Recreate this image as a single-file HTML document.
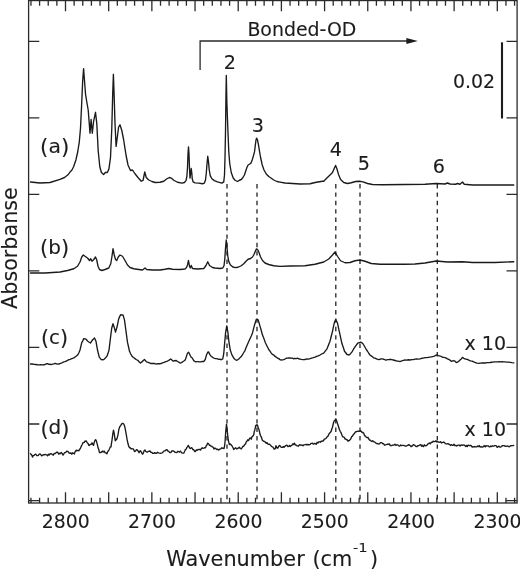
<!DOCTYPE html>
<html><head><meta charset="utf-8"><title>Spectra</title>
<style>
html,body{margin:0;padding:0;background:#fff;}
svg{display:block;}
text{font-family:"DejaVu Sans","Liberation Sans",sans-serif;fill:#1c1c1c;stroke:#1c1c1c;stroke-width:0.12;}
.c{fill:none;stroke:#1a1a1a;stroke-width:1.35;stroke-linejoin:round;stroke-linecap:round;}
.f{fill:none;stroke:#2a2a2a;stroke-width:1.3;}
</style></head><body>
<svg width="520" height="571" viewBox="0 0 520 571">
<rect x="0" y="0" width="520" height="571" fill="#fff"/>
<rect class="f" x="28.6" y="0.55" width="488.5" height="502.45"/>
<path class="f" d="M30.96,0.55v5.3M30.96,503.0v-5.3M39.59,0.55v5.3M39.59,503.0v-5.3M48.23,0.55v5.3M48.23,503.0v-5.3M56.86,0.55v5.3M56.86,503.0v-5.3M65.50,0.55v10.8M65.50,503.0v-10.8M74.14,0.55v5.3M74.14,503.0v-5.3M82.77,0.55v5.3M82.77,503.0v-5.3M91.41,0.55v5.3M91.41,503.0v-5.3M100.04,0.55v5.3M100.04,503.0v-5.3M108.68,0.55v10.8M108.68,503.0v-10.8M117.32,0.55v5.3M117.32,503.0v-5.3M125.95,0.55v5.3M125.95,503.0v-5.3M134.59,0.55v5.3M134.59,503.0v-5.3M143.22,0.55v5.3M143.22,503.0v-5.3M151.86,0.55v10.8M151.86,503.0v-10.8M160.50,0.55v5.3M160.50,503.0v-5.3M169.13,0.55v5.3M169.13,503.0v-5.3M177.77,0.55v5.3M177.77,503.0v-5.3M186.40,0.55v5.3M186.40,503.0v-5.3M195.04,0.55v10.8M195.04,503.0v-10.8M203.68,0.55v5.3M203.68,503.0v-5.3M212.31,0.55v5.3M212.31,503.0v-5.3M220.95,0.55v5.3M220.95,503.0v-5.3M229.58,0.55v5.3M229.58,503.0v-5.3M238.22,0.55v10.8M238.22,503.0v-10.8M246.86,0.55v5.3M246.86,503.0v-5.3M255.49,0.55v5.3M255.49,503.0v-5.3M264.13,0.55v5.3M264.13,503.0v-5.3M272.76,0.55v5.3M272.76,503.0v-5.3M281.40,0.55v10.8M281.40,503.0v-10.8M290.04,0.55v5.3M290.04,503.0v-5.3M298.67,0.55v5.3M298.67,503.0v-5.3M307.31,0.55v5.3M307.31,503.0v-5.3M315.94,0.55v5.3M315.94,503.0v-5.3M324.58,0.55v10.8M324.58,503.0v-10.8M333.22,0.55v5.3M333.22,503.0v-5.3M341.85,0.55v5.3M341.85,503.0v-5.3M350.49,0.55v5.3M350.49,503.0v-5.3M359.12,0.55v5.3M359.12,503.0v-5.3M367.76,0.55v10.8M367.76,503.0v-10.8M376.40,0.55v5.3M376.40,503.0v-5.3M385.03,0.55v5.3M385.03,503.0v-5.3M393.67,0.55v5.3M393.67,503.0v-5.3M402.30,0.55v5.3M402.30,503.0v-5.3M410.94,0.55v10.8M410.94,503.0v-10.8M419.58,0.55v5.3M419.58,503.0v-5.3M428.21,0.55v5.3M428.21,503.0v-5.3M436.85,0.55v5.3M436.85,503.0v-5.3M445.48,0.55v5.3M445.48,503.0v-5.3M454.12,0.55v10.8M454.12,503.0v-10.8M462.76,0.55v5.3M462.76,503.0v-5.3M471.39,0.55v5.3M471.39,503.0v-5.3M480.03,0.55v5.3M480.03,503.0v-5.3M488.66,0.55v5.3M488.66,503.0v-5.3M497.30,0.55v10.8M497.30,503.0v-10.8M505.94,0.55v5.3M505.94,503.0v-5.3M514.57,0.55v5.3M514.57,503.0v-5.3M28.6,41.30h10.7M517.1,41.30h-10.6M28.6,117.84h10.7M517.1,117.84h-10.6M28.6,194.38h10.7M517.1,194.38h-10.6M28.6,270.92h10.7M517.1,270.92h-10.6M28.6,347.46h10.7M517.1,347.46h-10.6M28.6,424.00h10.7M517.1,424.00h-10.6M28.6,500.54h10.7M517.1,500.54h-10.6"/>
<path class="f" stroke-dasharray="4.4 4.0" style="stroke-width:1.3;stroke:#222" d="M227,184V502.6M257,184V502.6M335.8,184V502.6M360,184V502.6M437.3,184V502.6"/>
<polyline class="c" points="30.50,182.00 40.00,183.00 50.00,182.50 60.00,179.30 64.50,177.50 68.00,174.80 70.20,171.80 71.80,170.20 73.60,166.80 75.90,160.00 77.70,152.00 79.30,141.80 80.50,128.20 81.60,105.50 82.70,80.50 83.60,68.60 84.50,80.50 85.50,94.00 86.80,102.00 88.20,110.00 89.10,121.40 90.00,133.20 91.10,119.50 92.30,133.20 93.60,121.40 95.50,112.30 96.80,123.60 98.20,150.90 99.80,166.80 101.40,172.50 103.60,174.60 105.50,172.30 107.30,172.50 108.90,169.10 110.50,157.70 111.80,128.20 112.70,94.10 113.40,74.30 114.10,94.10 115.00,123.60 116.10,146.40 117.30,137.30 118.60,127.00 120.00,124.80 121.80,130.50 123.60,139.50 125.00,148.60 126.20,156.00 128.00,165.00 130.50,170.50 132.50,170.00 135.00,173.75 138.00,177.50 141.25,181.25 143.00,180.50 144.75,172.00 146.25,177.50 148.75,180.00 152.00,181.50 155.00,182.50 160.00,182.25 163.75,181.25 166.90,178.75 169.40,177.50 171.25,178.10 173.75,180.25 177.50,182.25 181.90,183.10 184.40,182.50 186.00,180.60 186.90,176.25 187.50,167.50 188.00,153.75 188.50,146.90 189.00,153.75 189.50,168.75 190.00,178.10 190.75,172.50 191.25,168.50 191.75,172.50 192.25,178.75 193.10,181.90 195.00,182.90 198.75,183.10 202.50,183.75 204.40,183.10 205.50,180.00 206.25,173.75 207.00,163.75 207.75,156.25 208.50,161.90 209.25,170.00 210.25,175.60 211.90,178.75 214.40,180.60 217.50,181.90 221.90,183.10 223.75,181.90 224.50,175.00 225.00,157.50 225.50,132.50 225.90,100.00 226.30,75.40 226.80,100.00 227.50,120.00 228.00,132.50 228.75,151.25 229.75,163.75 231.25,172.50 233.10,177.75 235.00,180.25 237.50,181.50 239.40,180.25 241.25,179.50 242.75,177.75 244.40,175.00 245.60,171.50 246.90,167.50 248.10,165.00 249.75,164.00 251.00,163.10 252.25,159.75 253.50,155.60 254.50,151.90 255.25,145.60 256.00,140.00 256.60,138.10 257.50,140.00 258.40,144.40 259.40,150.60 260.60,157.50 262.25,165.00 264.00,170.00 266.25,174.00 268.75,176.50 270.60,177.75 273.75,180.00 276.90,181.50 280.00,182.10 285.00,183.00 300.00,184.00 310.00,183.75 316.25,182.25 322.50,181.25 323.75,181.25 326.90,178.10 330.00,175.00 332.50,172.50 334.40,168.10 335.60,165.40 336.90,168.75 338.50,174.40 340.60,179.40 343.75,182.50 347.50,183.50 351.25,182.75 355.60,181.50 359.40,181.25 363.10,181.90 367.50,183.50 372.50,184.50 382.50,184.75 404.75,184.50 425.00,184.25 436.25,183.50 445.00,184.00 447.50,183.00 450.00,184.00 455.50,184.25 457.50,183.50 460.00,184.25 462.50,182.00 464.25,184.25 472.50,185.00 513.75,185.00"/>
<polyline class="c" points="30.50,273.00 45.00,273.00 60.00,272.00 67.50,270.50 73.75,268.75 77.50,266.25 80.00,262.00 81.75,257.00 83.25,255.00 85.00,256.25 87.50,258.00 89.50,260.50 90.75,258.75 92.00,261.25 93.75,259.50 95.50,257.00 96.75,260.00 98.00,266.25 99.50,269.50 102.00,270.50 105.00,269.50 108.75,268.00 110.75,263.75 112.00,256.25 113.00,248.75 114.25,255.00 115.50,259.50 116.75,260.50 118.25,257.00 120.00,255.00 122.50,256.25 125.00,260.50 127.50,265.00 130.00,267.50 133.75,268.75 138.75,269.50 142.50,270.00 145.00,268.00 146.75,269.50 152.50,270.00 160.00,270.00 165.00,269.25 168.75,268.50 172.50,269.25 180.00,269.50 185.00,269.00 186.50,267.50 187.50,265.00 188.50,260.50 189.50,266.25 190.25,268.00 191.25,265.50 192.50,268.50 197.50,269.00 203.75,268.50 206.00,265.50 207.75,261.75 209.50,265.50 212.50,267.50 215.00,268.00 220.00,268.50 222.75,268.00 224.00,265.75 224.75,259.50 225.50,248.25 226.25,240.00 227.00,247.00 227.75,255.75 228.75,261.40 230.25,264.75 232.50,266.75 235.00,267.60 238.10,267.25 241.25,265.75 244.00,263.50 246.25,261.00 248.10,259.25 250.60,258.50 252.50,257.00 254.00,254.50 255.25,251.40 256.50,248.90 257.75,249.75 259.00,252.60 260.60,257.00 262.50,260.50 265.00,263.00 268.75,264.50 273.75,265.75 280.00,266.40 290.00,266.00 305.00,265.75 315.00,264.25 323.75,262.00 328.75,259.00 332.50,255.00 335.00,252.00 337.50,256.25 340.50,260.75 345.00,262.75 350.00,262.50 355.00,260.75 360.00,260.00 365.00,261.25 371.25,263.50 380.00,264.25 404.75,264.25 415.00,264.00 425.00,263.00 436.25,261.00 447.50,262.00 462.50,261.75 472.50,262.50 495.00,262.50 513.75,261.75"/>
<polyline class="c" points="30.50,364.00 32.25,364.03 34.00,364.40 35.75,364.48 37.50,364.77 39.17,364.91 40.83,364.66 42.50,364.88 44.17,364.79 45.83,364.02 47.50,363.69 48.75,364.30 50.00,364.23 51.25,364.58 52.50,364.15 53.75,363.92 55.00,363.42 56.25,363.75 57.50,364.05 58.75,364.01 60.42,363.48 62.08,362.77 63.75,361.90 65.00,361.65 66.25,361.05 67.50,360.45 68.75,359.64 70.00,359.55 71.25,358.74 72.50,358.30 73.75,357.81 75.00,357.05 76.50,356.00 78.00,354.47 79.00,352.43 80.00,349.99 81.75,342.60 82.75,340.85 83.75,338.65 85.00,338.91 86.25,339.43 87.50,341.03 88.75,341.98 90.50,343.03 91.50,341.38 92.50,340.00 93.50,338.93 94.50,337.96 96.00,341.27 97.50,350.02 99.25,357.10 100.25,358.36 101.25,359.60 102.50,359.71 103.75,359.62 105.38,357.98 107.00,356.17 108.00,353.34 109.00,350.11 110.50,337.60 111.75,328.02 113.00,323.80 114.25,327.43 115.50,332.08 117.00,327.02 118.75,318.70 119.75,316.36 120.75,314.58 121.88,315.04 123.00,314.90 124.50,320.07 126.00,331.23 127.50,342.42 128.50,346.75 129.50,351.31 130.75,353.97 132.00,356.14 133.50,357.57 135.00,358.64 136.50,359.76 138.00,360.46 139.25,361.98 140.50,363.12 141.50,362.13 142.50,361.37 143.50,360.26 144.50,359.40 145.50,360.81 146.50,361.89 148.25,362.44 150.00,363.23 151.56,363.50 153.12,363.42 154.69,363.54 156.25,364.09 157.81,363.64 159.38,363.78 160.94,363.49 162.50,362.97 164.17,362.31 165.83,361.68 167.50,361.03 169.12,360.06 170.75,359.01 171.88,360.07 173.00,361.11 174.62,360.75 176.25,360.48 177.50,361.50 178.75,362.08 180.00,363.05 181.55,362.59 183.10,361.51 184.18,360.78 185.25,359.88 186.50,356.23 187.50,353.12 188.50,352.13 189.75,354.43 191.00,356.93 192.25,357.99 193.75,360.63 194.68,361.23 195.60,361.94 196.85,361.66 198.10,361.65 199.35,361.94 200.60,361.89 202.18,361.49 203.75,361.54 205.25,359.51 206.50,354.94 207.75,352.24 208.50,351.92 209.75,354.36 211.25,356.47 212.50,357.19 213.75,358.07 215.00,358.46 216.25,358.58 217.50,358.97 218.75,359.41 220.00,359.22 221.25,359.77 222.75,358.81 223.75,353.70 224.60,343.68 225.60,332.57 226.75,325.94 227.90,332.42 229.00,342.48 230.25,350.05 231.90,354.90 232.95,356.64 234.00,358.46 235.25,359.58 236.50,360.24 237.62,359.84 238.75,358.92 240.00,357.65 241.25,356.54 242.50,354.73 243.75,352.49 245.00,350.53 246.00,347.82 247.00,345.51 248.50,341.94 250.00,338.82 251.25,336.08 252.50,332.92 253.50,328.87 254.50,325.07 256.25,319.53 258.00,319.57 259.00,322.78 260.00,326.16 261.25,330.50 262.50,335.07 264.00,338.86 265.50,342.96 267.12,346.20 268.75,349.48 270.00,351.11 271.25,353.09 272.50,354.42 273.75,355.04 275.00,356.43 276.25,357.09 277.50,358.13 278.75,358.63 280.00,359.61 281.25,360.01 282.50,359.93 283.75,359.56 285.00,359.04 286.25,358.29 287.50,358.18 288.75,357.96 290.00,357.96 291.25,358.09 292.50,358.24 293.75,358.77 295.00,358.46 296.25,358.60 297.50,358.14 298.75,358.83 300.00,359.03 301.25,359.35 302.50,359.57 303.75,359.66 305.00,359.52 306.67,358.96 308.33,359.15 310.00,358.67 311.67,358.05 313.33,357.68 315.00,357.01 316.67,356.28 318.33,355.93 320.00,355.03 321.25,354.24 322.50,353.52 323.75,353.09 325.38,350.86 327.00,348.82 328.50,344.91 330.00,341.18 331.25,336.27 332.50,331.33 333.50,326.43 334.50,322.07 335.75,319.60 337.50,323.07 338.50,327.94 339.50,332.38 340.75,338.20 342.00,343.84 343.25,347.23 344.50,351.20 345.75,352.74 347.00,354.51 348.00,354.70 349.00,354.99 350.50,353.67 352.00,351.88 353.50,349.23 355.00,346.91 356.50,344.77 358.00,342.90 359.25,342.78 360.50,342.09 361.75,342.63 363.00,343.75 364.62,346.51 366.25,349.46 367.50,351.24 368.75,353.25 370.00,355.02 371.25,355.92 372.50,356.81 373.75,357.96 375.42,358.27 377.08,359.03 378.75,359.55 380.00,359.26 381.25,358.91 382.50,358.92 383.75,359.26 385.00,359.73 386.25,360.07 387.50,359.68 388.75,359.68 390.00,359.28 391.67,359.63 393.33,360.01 395.00,360.50 396.67,360.96 398.33,361.12 400.00,361.55 401.67,360.98 403.33,360.35 405.00,360.01 406.67,360.12 408.33,359.74 410.00,359.98 411.67,359.62 413.33,359.56 415.00,359.10 416.67,358.84 418.33,359.07 420.00,358.82 421.67,358.27 423.33,358.06 425.00,357.66 426.67,357.69 428.33,357.35 430.00,357.09 431.25,356.93 432.50,356.60 433.75,356.31 435.25,355.66 436.75,354.90 438.38,355.68 440.00,356.13 441.25,356.45 442.50,357.25 443.75,357.39 445.00,357.67 446.25,358.09 447.50,358.84 448.75,359.39 450.00,360.13 451.25,361.33 452.88,360.77 454.50,360.83 456.25,362.54 457.50,362.08 458.75,361.36 460.00,360.05 461.25,358.93 462.50,357.39 463.75,358.29 465.00,358.75 466.25,359.30 467.50,359.35 468.75,360.06 470.42,360.93 472.08,361.07 473.75,361.96 475.42,362.54 477.08,363.20 478.75,363.44 480.42,363.14 482.08,363.02 483.75,363.03 485.31,363.03 486.88,362.69 488.44,362.55 490.00,362.48 491.50,362.26 493.00,362.15 494.50,361.80 496.00,361.90 497.50,361.86 499.00,361.70 500.50,361.90 502.00,361.55 503.50,361.86 505.00,361.81 506.75,362.05 508.50,362.16 510.25,362.34 512.00,362.64 513.75,362.85"/>
<polyline class="c" points="30.50,453.75 31.17,454.52 31.83,455.29 32.50,457.11 33.33,455.40 34.17,455.40 35.00,454.40 35.83,454.20 36.67,455.51 37.50,455.67 38.33,455.30 39.17,454.06 40.00,453.96 40.83,454.61 41.67,455.84 42.50,455.48 43.33,454.67 44.17,454.81 45.00,454.32 45.83,454.64 46.67,454.81 47.50,455.84 48.33,454.18 49.17,455.15 50.00,453.85 50.83,453.69 51.67,453.98 52.50,454.86 53.33,455.07 54.17,453.43 55.00,453.56 55.67,453.25 56.33,452.27 57.00,452.03 57.88,452.46 58.75,454.18 59.58,453.30 60.42,453.49 61.25,452.45 62.12,453.42 63.00,455.06 63.67,454.08 64.33,452.97 65.00,452.71 65.83,452.44 66.67,451.21 67.50,451.30 68.33,451.91 69.17,453.16 70.00,453.27 70.88,452.85 71.76,454.22 72.64,452.80 73.52,453.47 74.40,453.94 75.00,451.87 75.60,451.24 76.23,450.09 76.87,450.89 77.50,450.44 78.13,450.30 78.77,450.76 79.40,449.87 80.33,448.48 81.25,446.32 82.17,444.52 83.10,442.47 83.73,442.61 84.37,442.30 85.00,440.98 85.62,441.42 86.25,440.93 87.17,442.74 88.10,443.61 88.75,445.26 89.40,445.48 90.20,444.44 91.00,444.32 91.50,444.05 92.00,442.76 92.75,444.28 93.50,445.36 94.12,442.74 94.75,440.93 95.60,439.59 96.25,440.58 96.90,442.92 97.50,445.23 98.10,448.02 98.75,449.37 99.40,452.46 100.00,452.46 100.60,452.53 101.25,452.32 101.90,451.51 102.50,451.23 103.10,451.94 103.75,451.25 104.40,451.28 105.00,452.87 105.60,452.85 106.25,452.97 106.90,453.81 107.50,452.15 108.10,451.24 108.92,450.04 109.75,448.33 110.38,446.81 111.00,446.84 111.50,443.21 112.00,440.05 112.90,433.43 113.50,430.14 114.25,433.76 114.75,437.39 115.25,440.73 115.88,439.20 116.50,439.69 117.12,438.00 117.75,435.87 118.25,433.34 118.75,429.92 119.25,428.27 119.75,426.61 120.50,426.07 121.25,424.43 122.17,423.47 123.10,423.54 123.75,424.07 124.40,425.48 125.00,427.62 125.60,430.89 126.25,434.37 126.90,438.46 127.50,441.33 128.10,444.06 128.93,446.75 129.75,447.83 130.38,447.74 131.00,448.82 131.75,448.73 132.50,448.90 133.25,448.82 134.00,450.25 134.50,451.64 135.00,451.48 135.67,450.97 136.33,449.75 137.00,449.71 137.67,450.55 138.33,451.24 139.00,452.74 139.67,451.47 140.33,450.81 141.00,451.57 141.75,452.93 142.50,454.25 143.33,453.08 144.17,450.65 145.00,450.02 145.83,451.53 146.67,451.99 147.50,452.14 148.33,451.32 149.17,451.26 150.00,451.01 150.94,452.30 151.88,452.43 152.81,453.44 153.75,453.38 154.69,452.63 155.62,453.31 156.56,453.25 157.50,452.25 158.44,452.86 159.38,453.20 160.31,453.37 161.25,453.05 162.19,452.78 163.12,451.99 164.06,450.90 165.00,450.91 165.67,450.27 166.33,449.65 167.00,449.64 167.83,451.16 168.67,451.07 169.50,452.31 170.25,452.63 171.00,452.32 171.75,451.01 172.50,450.80 173.33,451.01 174.17,451.45 175.00,452.29 175.75,452.41 176.50,452.60 177.25,452.18 178.00,451.24 178.81,451.71 179.62,452.16 180.44,451.07 181.25,452.12 182.08,453.07 182.92,453.17 183.75,453.18 184.58,451.54 185.42,449.59 186.25,448.96 186.92,447.20 187.58,446.79 188.25,445.34 188.88,446.31 189.50,447.93 190.38,448.55 191.25,447.66 192.12,448.16 193.00,449.73 193.83,449.79 194.67,451.56 195.50,451.47 196.33,449.86 197.17,450.34 198.00,449.35 198.83,449.62 199.67,449.40 200.50,450.04 201.33,448.67 202.17,447.79 203.00,448.34 203.83,448.10 204.67,447.71 205.50,447.81 206.17,445.88 206.83,445.17 207.50,443.23 208.17,443.31 208.83,444.22 209.50,445.35 210.17,445.28 210.83,446.16 211.50,446.08 212.33,446.94 213.17,447.25 214.00,449.05 214.50,448.16 215.00,448.07 215.94,448.66 216.88,449.65 217.81,449.19 218.75,450.05 219.54,449.34 220.32,448.98 221.11,448.55 221.90,447.75 222.60,448.29 223.30,448.13 224.00,448.64 224.50,446.29 225.00,442.26 225.75,431.23 226.50,424.16 227.25,431.29 227.75,435.31 228.25,440.01 228.82,442.30 229.40,444.60 230.32,443.99 231.25,445.04 232.08,446.01 232.92,447.53 233.75,449.60 234.68,448.59 235.60,447.79 236.23,448.47 236.87,448.99 237.50,448.46 238.13,448.29 238.77,447.68 239.40,447.26 240.32,448.47 241.25,448.97 242.18,447.68 243.10,446.23 243.73,446.29 244.37,445.11 245.00,444.27 245.63,443.88 246.27,441.73 246.90,441.29 247.75,439.72 248.25,440.61 248.75,440.34 249.38,438.67 250.00,438.06 250.62,437.98 251.25,439.21 251.88,437.06 252.50,436.37 253.12,435.84 253.75,434.69 254.25,431.58 254.75,430.16 255.25,428.09 255.75,425.34 256.32,425.69 256.90,424.74 257.50,425.15 258.10,427.23 258.75,428.89 259.40,431.24 260.00,434.31 260.60,435.84 261.43,437.19 262.25,439.95 263.00,440.78 263.75,441.38 264.58,441.49 265.42,442.24 266.25,443.26 267.08,442.67 267.92,444.06 268.75,444.36 269.58,444.07 270.42,445.16 271.25,446.09 272.18,446.77 273.10,447.19 273.93,449.00 274.75,448.96 275.38,448.22 276.00,445.72 276.55,446.83 277.10,448.17 277.93,448.00 278.75,446.33 279.38,445.38 280.00,445.54 280.83,446.97 281.67,447.44 282.50,447.33 283.25,446.43 284.00,447.38 284.75,446.31 285.50,445.89 286.31,445.20 287.12,445.33 287.94,446.65 288.75,446.45 289.56,445.36 290.38,446.54 291.19,445.62 292.00,445.22 292.83,443.75 293.67,444.64 294.50,443.19 295.33,444.99 296.17,445.08 297.00,445.88 297.75,445.85 298.50,446.27 299.25,444.83 300.00,444.73 300.75,445.30 301.50,445.03 302.25,445.05 303.00,445.76 303.81,444.82 304.62,444.71 305.44,444.54 306.25,444.36 307.06,445.09 307.88,444.37 308.69,444.88 309.50,444.77 310.25,444.35 311.00,443.38 311.75,443.43 312.50,443.15 313.25,444.04 314.00,443.84 314.75,443.32 315.50,443.98 316.31,444.28 317.12,442.29 317.94,443.07 318.75,441.95 319.56,441.80 320.38,442.23 321.19,441.25 322.00,441.25 322.75,440.96 323.50,440.87 324.25,439.09 325.00,438.99 325.75,438.50 326.50,437.74 327.25,436.70 328.00,436.14 328.83,434.20 329.67,433.08 330.50,432.19 331.17,431.27 331.83,428.73 332.50,427.26 333.38,423.25 334.25,420.75 335.00,420.29 335.75,418.87 336.62,420.86 337.50,423.56 338.17,425.46 338.83,427.84 339.50,429.75 340.33,431.57 341.17,432.91 342.00,435.33 342.75,436.79 343.50,436.96 344.25,437.35 345.00,439.09 345.75,439.03 346.50,439.74 347.25,439.73 348.00,441.16 348.67,440.79 349.33,440.42 350.00,439.78 350.83,438.76 351.67,436.61 352.50,436.08 353.33,434.43 354.17,433.90 355.00,432.67 355.75,431.70 356.50,431.77 357.25,431.21 358.00,431.31 358.83,431.05 359.67,431.20 360.50,430.61 361.33,431.56 362.17,432.52 363.00,432.42 363.83,433.44 364.67,435.87 365.50,436.00 366.31,437.28 367.12,437.76 367.94,437.30 368.75,438.99 369.56,440.08 370.38,440.23 371.19,441.05 372.00,441.47 372.75,440.79 373.50,441.67 374.25,441.82 375.00,442.24 375.75,442.99 376.50,443.46 377.25,443.46 378.00,444.03 378.81,443.89 379.62,443.72 380.44,442.70 381.25,442.66 382.06,442.84 382.88,443.75 383.69,443.79 384.50,445.24 385.25,444.86 386.00,444.73 386.75,444.48 387.50,444.13 388.44,444.36 389.38,443.86 390.31,445.66 391.25,445.68 392.19,445.26 393.12,445.06 394.06,445.04 395.00,444.19 395.94,445.30 396.88,444.80 397.81,444.86 398.75,445.83 399.69,446.16 400.62,444.97 401.56,445.68 402.50,445.34 403.33,445.32 404.17,445.46 405.00,445.98 405.75,446.08 406.50,445.98 407.25,445.46 408.00,445.10 408.75,444.61 409.50,445.12 410.25,445.68 411.00,446.68 411.75,445.84 412.50,446.00 413.25,444.68 414.00,444.93 414.75,445.15 415.50,446.18 416.25,446.53 417.00,446.63 417.75,445.75 418.50,445.78 419.25,445.31 420.00,444.98 420.75,444.56 421.50,446.21 422.25,445.21 423.00,446.34 423.67,446.62 424.33,444.80 425.00,445.47 425.83,445.74 426.67,445.68 427.50,444.46 428.44,443.58 429.38,442.98 430.31,443.80 431.25,442.29 432.19,442.33 433.12,441.23 434.06,441.61 435.00,441.58 435.94,440.71 436.88,442.08 437.81,441.64 438.75,442.03 439.69,442.30 440.62,441.64 441.56,443.03 442.50,442.49 443.44,442.02 444.38,442.36 445.31,443.61 446.25,443.96 447.08,443.81 447.92,443.69 448.75,444.22 449.58,444.34 450.42,445.45 451.25,444.64 452.17,445.28 453.08,445.28 454.00,444.23 454.88,445.52 455.75,445.38 456.62,445.97 457.50,445.35 458.38,445.14 459.25,445.06 460.12,446.02 461.00,445.06 461.80,444.95 462.60,445.27 463.40,445.20 464.20,444.99 465.00,445.71 465.80,446.50 466.60,445.41 467.40,446.48 468.20,445.15 469.00,445.33 469.80,445.72 470.60,445.34 471.40,445.87 472.20,447.12 473.00,446.78 473.90,446.96 474.80,446.54 475.70,446.94 476.60,446.89 477.50,446.04 478.40,446.60 479.30,445.59 480.20,447.02 481.10,446.71 482.00,447.18 482.80,447.06 483.60,446.22 484.40,445.59 485.20,446.97 486.00,445.73 486.80,446.05 487.60,445.92 488.40,445.94 489.20,446.83 490.00,446.84 490.80,445.97 491.60,446.58 492.40,445.84 493.20,446.20 494.00,445.92 494.80,445.55 495.60,445.69 496.40,445.92 497.20,447.33 498.00,446.75 498.90,446.10 499.80,447.18 500.70,447.19 501.60,446.06 502.50,445.74 503.38,445.63 504.25,445.64 505.12,446.28 506.00,446.46 506.80,446.13 507.60,446.02 508.40,446.43 509.20,446.85 510.00,446.18 510.94,445.72 511.88,445.59 512.81,445.67 513.75,445.41"/>
<path class="f" d="M200.1,70V41H408"/>
<path d="M417.8,41L406.4,38V44Z" fill="#1c1c1c"/>
<path d="M502,42.3V118.5" stroke="#1c1c1c" stroke-width="2.1" fill="none"/>
<text class="t" transform="translate(247.4,36.0) scale(0.946,1)" font-size="20">Bonded-OD</text>
<text class="t" transform="translate(453.0,87.8) scale(0.948,1)" font-size="20">0.02</text>
<text class="t" transform="translate(229.85,68.9) scale(0.96,1)" font-size="20" text-anchor="middle">2</text>
<text class="t" transform="translate(257.75,131.8) scale(0.96,1)" font-size="20" text-anchor="middle">3</text>
<text class="t" transform="translate(335.95,156.4) scale(0.96,1)" font-size="20" text-anchor="middle">4</text>
<text class="t" transform="translate(363.8,170.4) scale(0.96,1)" font-size="20" text-anchor="middle">5</text>
<text class="t" transform="translate(438.8,173.4) scale(0.96,1)" font-size="20" text-anchor="middle">6</text>
<text class="t" transform="translate(40.1,152.5) scale(1.02,1)" font-size="20"><tspan font-size="21" dy="1.3">(</tspan><tspan font-size="20" dy="-1.3">a</tspan><tspan font-size="21" dy="1.3">)</tspan></text>
<text class="t" transform="translate(40.1,253.6) scale(1.0,1)" font-size="20"><tspan font-size="21" dy="1.3">(</tspan><tspan font-size="20" dy="-1.3">b</tspan><tspan font-size="21" dy="1.3">)</tspan></text>
<text class="t" transform="translate(40.9,344.0) scale(0.99,1)" font-size="20"><tspan font-size="21" dy="1.3">(</tspan><tspan font-size="20" dy="-1.3">c</tspan><tspan font-size="21" dy="1.3">)</tspan></text>
<text class="t" transform="translate(40.4,434.2) scale(1.0,1)" font-size="20"><tspan font-size="21" dy="1.3">(</tspan><tspan font-size="20" dy="-1.3">d</tspan><tspan font-size="21" dy="1.3">)</tspan></text>
<text class="t" transform="translate(464.5,349.6) scale(0.951,1)" font-size="20">x 10</text>
<text class="t" transform="translate(464.5,435.6) scale(0.951,1)" font-size="20">x 10</text>
<text class="t" transform="translate(65.7,528.4) scale(0.942,1)" font-size="20" text-anchor="middle">2800</text>
<text class="t" transform="translate(152.06,528.4) scale(0.942,1)" font-size="20" text-anchor="middle">2700</text>
<text class="t" transform="translate(238.42000000000002,528.4) scale(0.942,1)" font-size="20" text-anchor="middle">2600</text>
<text class="t" transform="translate(324.78,528.4) scale(0.942,1)" font-size="20" text-anchor="middle">2500</text>
<text class="t" transform="translate(411.14,528.4) scale(0.942,1)" font-size="20" text-anchor="middle">2400</text>
<text class="t" transform="translate(497.5,528.4) scale(0.942,1)" font-size="20" text-anchor="middle">2300</text>
<text class="t" transform="translate(166.2,566.2) scale(0.979,1)" font-size="21.3">Wavenumber<tspan dx="1.1"> (cm</tspan><tspan font-size="12.4" dx="0.7" dy="-14.3" textLength="15" lengthAdjust="spacingAndGlyphs">-1</tspan><tspan dx="2.4" dy="14.3">)</tspan></text>
<text class="t" transform="translate(16.5,308.9) rotate(-90) scale(0.972,1)" font-size="21.3">Absorbanse</text>
</svg>
</body></html>
